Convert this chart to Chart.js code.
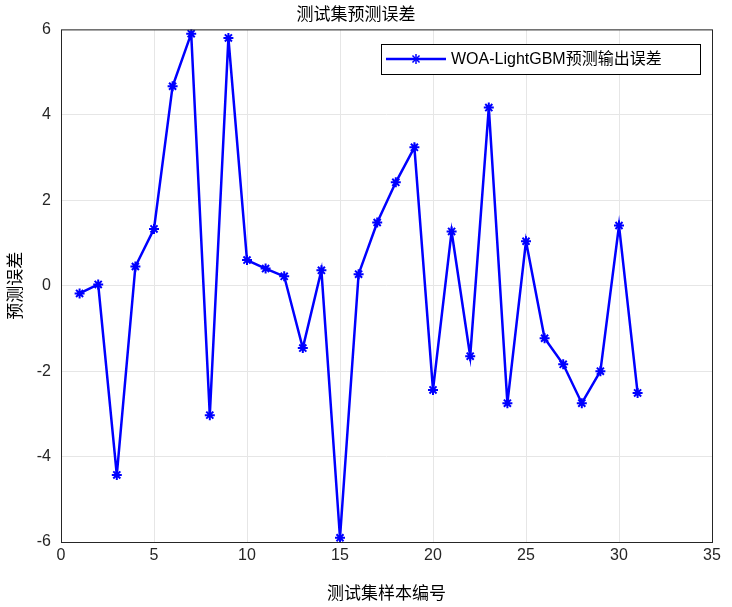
<!DOCTYPE html>
<html><head><meta charset="utf-8">
<script src="https://cdn.jsdelivr.net/npm/chart.js@4/dist/chart.umd.min.js"></script>
<style>html,body{margin:0;padding:0;background:#fff}#w{width:732px;height:607px}</style>
</head><body><div id="w"><canvas id="c"></canvas></div>
<script>
const sampleIndex = [1,2,3,4,5,6,7,8,9,10,11,12,13,14,15,16,17,18,19,20,21,22,23,24,25,26,27,28,29,30,31];
const errors = [-0.18,0.03,-4.43,0.45,1.33,4.67,5.9,-3.03,5.8,0.6,0.4,0.22,-1.46,0.36,-5.9,0.27,1.48,2.42,3.24,-2.44,1.27,-1.65,4.17,-2.75,1.04,-1.23,-1.84,-2.75,-2.0,1.41,-2.51];
const seriesName = 'WOA-LightGBM预测输出误差';
const titleText = '测试集预测误差';
const xTitle = '测试集样本编号';
const yTitle = '预测误差';
const CJK = '"Noto Sans CJK SC", sans-serif';
const legendPlugin = {
  id:'lg',
  afterDraw(ch){
    const c=ch.ctx; c.save();
    const x=381,y=44,w=319,h=30;
    c.fillStyle='#fff'; c.fillRect(x,y,w,h);
    c.strokeStyle='#000'; c.lineWidth=1; c.strokeRect(x+0.5,y+0.5,w,h);
    c.strokeStyle='#0000ff'; c.lineWidth=2.5;
    c.beginPath(); c.moveTo(386,59); c.lineTo(446,59); c.stroke();
    c.lineWidth=1.5;
    for(let i=0;i<4;i++){const a=i*Math.PI/4;c.beginPath();c.moveTo(416-5*Math.cos(a),59-5*Math.sin(a));c.lineTo(416+5*Math.cos(a),59+5*Math.sin(a));c.stroke();}
    c.fillStyle='#000'; c.font='16px "Liberation Sans", '+CJK; c.textBaseline='middle';
    c.fillText(seriesName,451,60);
    c.restore();
  }
};
const boxPlugin={id:'box',afterDatasetsDraw(ch){const a=ch.chartArea,c=ch.ctx;c.save();c.strokeStyle='#262626';c.lineWidth=1;c.strokeRect(a.left+0.5,a.top+0.5,a.right-a.left,a.bottom-a.top);c.restore();}};
new Chart(document.getElementById('c'),{
  type:'line',
  data:{datasets:[{label:seriesName,data:sampleIndex.map((x,i)=>({x,y:errors[i]})),
    borderColor:'#0000ff',backgroundColor:'#0000ff',borderWidth:2.5,pointStyle:'star',
    pointRadius:5,pointBorderWidth:2,tension:0}]},
  options:{responsive:true,maintainAspectRatio:false,animation:false,
    layout:{padding:{left:0,right:20,top:0,bottom:0}},
    plugins:{legend:{display:false},tooltip:{enabled:false},
      title:{display:true,text:titleText,color:'#000',font:{family:CJK,size:17,weight:'normal'},padding:{top:3,bottom:6}}},
    scales:{
      x:{type:'linear',min:0,max:35,ticks:{stepSize:5,color:'#262626',font:{family:'"Liberation Sans"',size:16},padding:4},
        grid:{color:'#e6e6e6',drawTicks:false},border:{display:false},
        title:{display:true,text:xTitle,color:'#000',font:{family:CJK,size:17},padding:{top:4}},
        afterFit(s){s.height=65;}},
      y:{min:-6,max:6,ticks:{stepSize:2,color:'#262626',font:{family:'"Liberation Sans"',size:16},padding:10},
        grid:{color:'#e6e6e6',drawTicks:false},border:{display:false},
        title:{display:true,text:yTitle,color:'#000',font:{family:CJK,size:17},padding:{bottom:0}},
        afterFit(s){s.width=61;}}
    }},
  plugins:[boxPlugin,legendPlugin]
});
</script></body></html>
